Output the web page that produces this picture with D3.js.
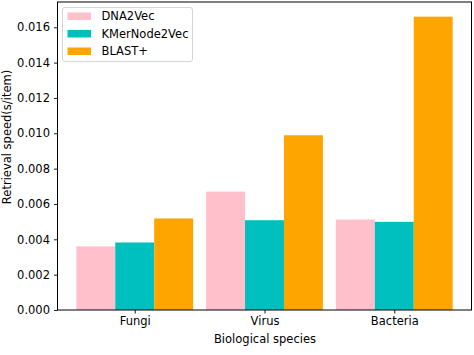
<!DOCTYPE html>
<html><head><meta charset="utf-8">
<script src="https://cdn.jsdelivr.net/npm/d3@7"></script>
<style>body{margin:0;background:#fff}svg{display:block}text{font-family:"DejaVu Sans",sans-serif;fill:#000}</style>
</head><body>
<script>
const categories = ["Fungi", "Virus", "Bacteria"];
const seriesNames = ["DNA2Vec", "KMerNode2Vec", "BLAST+"];
const seriesColors = ["#ffc0cb", "#00bfbf", "#ffa500"];
const dna2vec = [0.0036, 0.0067, 0.00512];
const kmernode2vec = [0.00382, 0.00508, 0.00499];
const blast = [0.00518, 0.00989, 0.0166];
const yTicks = [0, 0.002, 0.004, 0.006, 0.008, 0.010, 0.012, 0.014, 0.016];
const series = [dna2vec, kmernode2vec, blast];

const W = 474, H = 355;
const L = 57.5, R = 471.5, T = 2, B = 310;
const svg = d3.select("body").append("svg").attr("width", W).attr("height", H);

const x = d3.scaleLinear().domain([-0.595, 2.595]).range([L, R]);
const y = d3.scaleLinear().domain([0, 0.01743]).range([B, T]);
const bw = 0.3;

series.forEach((vals, si) => {
  svg.append("g").selectAll("rect").data(vals).join("rect")
    .attr("x", (d, i) => x(i + (si - 1) * bw - bw / 2))
    .attr("width", (d, i) => x(i + (si - 1) * bw + bw / 2) - x(i + (si - 1) * bw - bw / 2))
    .attr("y", d => y(d))
    .attr("height", d => y(0) - y(d))
    .attr("fill", seriesColors[si]);
});

const fs = 11.5;
const yAxis = svg.append("g").attr("transform", `translate(${L},0)`)
  .call(d3.axisLeft(y).tickValues(yTicks).tickFormat(d3.format(".3f")).tickSize(3.5).tickPadding(4));
const xAxis = svg.append("g").attr("transform", `translate(0,${B})`)
  .call(d3.axisBottom(x).tickValues([0, 1, 2]).tickFormat(i => categories[i]).tickSize(3.5).tickPadding(3.5));
[yAxis, xAxis].forEach(a => {
  a.select(".domain").remove();
  a.selectAll("text").attr("font-size", fs).attr("font-family", "DejaVu Sans").attr("fill", "#000");
  a.selectAll("line").attr("stroke", "#000").attr("stroke-width", 0.9);
});

svg.append("rect").attr("x", L).attr("y", T).attr("width", R - L).attr("height", B - T)
  .attr("fill", "none").attr("stroke", "#000").attr("stroke-width", 1);

svg.append("text").attr("x", (L + R) / 2 + 0.5).attr("y", 343).attr("text-anchor", "middle")
  .attr("font-size", fs).text("Biological species");
svg.append("text").attr("transform", `translate(11,137) rotate(-90)`).attr("text-anchor", "middle")
  .attr("font-size", fs).text("Retrieval speed(s/item)");

const lg = svg.append("g");
lg.append("rect").attr("x", 62.5).attr("y", 7.5).attr("width", 130).attr("height", 54)
  .attr("rx", 2.5).attr("fill", "#fff").attr("fill-opacity", 0.8).attr("stroke", "#d0d0d0").attr("stroke-width", 0.9);
seriesNames.forEach((n, i) => {
  const cy = 16 + i * 17.5;
  lg.append("rect").attr("x", 67.5).attr("y", cy - 3.5).attr("width", 23.5).attr("height", 7.5).attr("fill", seriesColors[i]);
  lg.append("text").attr("x", 101.5).attr("y", cy + 4.1).attr("font-size", fs).text(n);
});
</script>
</body></html>
